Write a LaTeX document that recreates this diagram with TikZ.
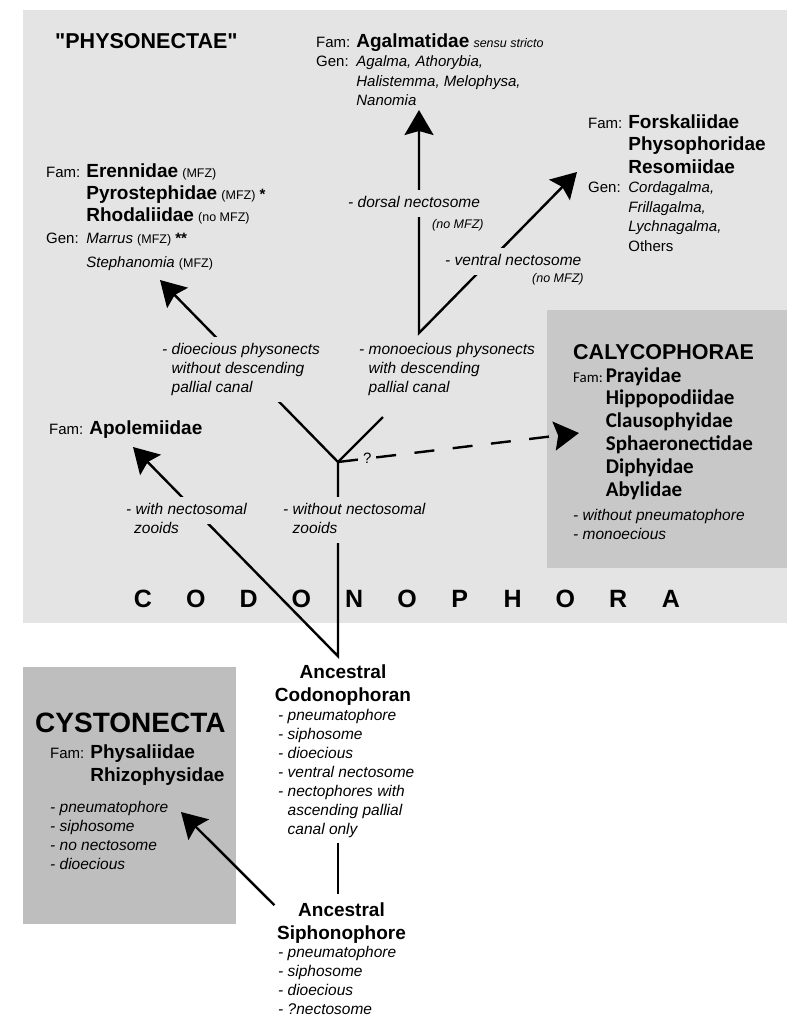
\documentclass[tikz,border=0pt]{standalone}
\usepackage{fontspec}
\setmainfont{Liberation Sans}[Ligatures=TeXOff]
\newfontfamily\calfont{Carlito}
\usepackage{tikz}
\usetikzlibrary{arrows.meta}
\definecolor{sfpale}{HTML}{E4E4E4}
\definecolor{sfbox}{HTML}{C8C8C8}
\definecolor{sfboxdk}{HTML}{BEBEBE}
\newcommand{\famname}[1]{{\fontsize{19}{23}\selectfont\bfseries #1}}
\newcommand{\calfam}[1]{{\calfont\fontsize{21}{25}\selectfont\bfseries #1}}
\newcommand{\mfz}[1]{{\fontsize{12.5}{15}\selectfont #1}}
\newcommand{\hang}{\phantom{- }}
\newenvironment{taxa}{\begin{tabular}[t]{@{}l@{\hspace{6pt}}l@{}}}{\end{tabular}}
\newenvironment{trlist}{\begin{tabular}[t]{@{}l@{}}}{\end{tabular}}
\tikzset{
  >={Stealth[length=25pt,width=29pt,inset=4pt]},
  txt/.style={inner sep=0pt,anchor=base west,font=\fontsize{15}{19.5}\selectfont},
  lbl/.style={txt,font=\fontsize{15.5}{19}\selectfont\itshape},
  sml/.style={txt,font=\fontsize{12.5}{15}\selectfont\itshape},
  cut/.style={lbl,fill=sfpale,inner sep=4pt},
  ttl/.style={txt,font=\fontsize{21.5}{26}\selectfont\bfseries},
  anc/.style={inner sep=5.5pt,anchor=base,font=\fontsize{19}{23}\selectfont\bfseries},
  clade/.style={inner sep=0pt,anchor=base,font=\fontsize{25}{30}\selectfont\bfseries},
  ln/.style={line width=2.4pt},
  arr/.style={ln,->},
  dbl/.style={ln,<->},
  dsh/.style={arr,dash pattern=on 20pt off 18.5pt},
}

\begin{document}
\begin{tikzpicture}[x=1pt,y=-1pt]
\useasboundingbox (0,0) rectangle (808,1026);
% panels
\fill[white] (0,0) rectangle (808,1026);
\fill[sfpale] (23,10) rectangle (787,623);
\fill[sfbox] (547,310) rectangle (787,568);
\fill[sfboxdk] (23,667) rectangle (236,924);

% physonect groups
\node[ttl] (physo) at (55,48) {"PHYSONECTAE"};
\node[txt] (agal) at (316,47) {\begin{taxa}
  Fam: & \famname{Agalmatidae} \mfz{\itshape sensu stricto}\\
  Gen: & \textit{Agalma, Athorybia,}\\
       & \textit{Halistemma, Melophysa,}\\
       & \textit{Nanomia}
\end{taxa}};
\node[txt] (forsk) at (588,128) {\begin{taxa}
  Fam: & \famname{Forskaliidae}\\[3pt]
       & \famname{Physophoridae}\\[3pt]
       & \famname{Resomiidae}\\
  Gen: & \textit{Cordagalma,}\\
       & \textit{Frillagalma,}\\
       & \textit{Lychnagalma,}\\
       & Others
\end{taxa}};
\node[txt] (erenn) at (46,177) {\begin{taxa}
  Fam: & \famname{Erennidae} \mfz{(MFZ)}\\[2.7pt]
       & \famname{Pyrostephidae} \mfz{(MFZ)} \textbf{*}\\[2.7pt]
       & \famname{Rhodaliidae} \mfz{(no MFZ)}\\[2.5pt]
  Gen: & \textit{Marrus} \mfz{(MFZ)} \textbf{**}\\[4pt]
       & \textit{Stephanomia} \mfz{(MFZ)}
\end{taxa}};
\node[txt] (apol) at (49,434) {\begin{taxa}Fam: & \famname{Apolemiidae}\end{taxa}};

% calycophorans
\node[ttl] (caly) at (573,359) {CALYCOPHORAE};
\node[txt] (calyfam) at (573,382) {\begin{tabular}[t]{@{}l@{\hspace{3pt}}l@{}}
  {\calfont Fam:} & \calfam{Prayidae}\\[2.4pt]
  & \calfam{Hippopodiidae}\\[2.4pt]
  & \calfam{Clausophyidae}\\[2.4pt]
  & \calfam{Sphaeronectidae}\\[2.4pt]
  & \calfam{Diphyidae}\\[2.4pt]
  & \calfam{Abylidae}
\end{tabular}};
\node[lbl] (calytr) at (573,520) {\begin{trlist}- without pneumatophore\\- monoecious\end{trlist}};

% cystonects
\node[ttl,font=\fontsize{28}{32}\selectfont\bfseries] (cyst) at (35,732) {CYSTONECTA};
\node[txt] (cystfam) at (50,758) {\begin{taxa}
  Fam: & \famname{Physaliidae}\\[4pt]
       & \famname{Rhizophysidae}
\end{taxa}};
\node[lbl] (cysttr) at (50,812) {\begin{trlist}- pneumatophore\\- siphosome\\- no nectosome\\- dioecious\end{trlist}};

% ancestors
\node[anc] (ancC) at (343,678) {\begin{tabular}[t]{@{}c@{}}Ancestral\\Codonophoran\end{tabular}};
\node[lbl] (ancCtr) at (278,720) {\begin{trlist}- pneumatophore\\- siphosome\\- dioecious\\- ventral nectosome\\- nectophores with\\\hang ascending pallial\\\hang canal only\end{trlist}};
\node[anc] (ancS) at (341.5,916) {\begin{tabular}[t]{@{}c@{}}Ancestral\\Siphonophore\end{tabular}};
\node[lbl] (ancStr) at (278,957) {\begin{trlist}- pneumatophore\\- siphosome\\- dioecious\\- ?nectosome\end{trlist}};

\foreach \l [count=\i] in {C,O,D,O,N,O,P,H,O,R,A}
  \node[clade] (cod\i) at ({143+52.8*(\i-1)},607) {\l};

% tree
\coordinate (fork) at (338,462);
\coordinate (split) at (419,333);
\coordinate (monoEnd) at (383,417);
\coordinate (cTop) at (fork |- ancC.north);
\coordinate (agalTip) at (419,110);
\coordinate (forskTip) at (577,172);
\coordinate (erennTip) at (160,280);
\coordinate (apolTip) at (133,447);
\coordinate (calyTip) at (579,433);
\coordinate (cystTip) at (181,812);

\draw[arr] (monoEnd) -- (fork) -- (erennTip);
\draw[dbl] (agalTip) -- (split) -- (forskTip);
\draw[arr] (fork) -- (cTop) -- (apolTip);
\draw[dsh] (fork) -- (calyTip);
\draw[ln,shorten <=3pt] (fork |- ancCtr.south) -- (fork |- ancS.north);
\draw[arr] ([shift={(3,11)}]ancS.north west) -- (cystTip);

% branch labels
\node[cut] (dorsal) at (344,207) {\strut- dorsal nectosome};
\node[sml] (dorsalnm) at (432,228) {(no MFZ)};
\node[cut] (ventral) at (441,265) {\strut- ventral nectosome};
\node[sml] (ventralnm) at (532,282) {(no MFZ)};
\node[cut] (dioec) at (158,354) {\begin{trlist}- dioecious physonects\\\hang without descending\\\hang pallial canal\end{trlist}};
\node[lbl] (monoec) at (359,354) {\begin{trlist}- monoecious physonects\\\hang with descending\\\hang pallial canal\end{trlist}};
\node[cut] (withnz) at (122,514) {\strut- with nectosomal};
\node[lbl] (withzo) at (134,533) {zooids};
\node[cut] (woutnz) at (279,514) {\begin{trlist}- without nectosomal\\\hang zooids\end{trlist}};
\node[txt] (qm) at (363,463) {?};
\end{tikzpicture}
\end{document}
